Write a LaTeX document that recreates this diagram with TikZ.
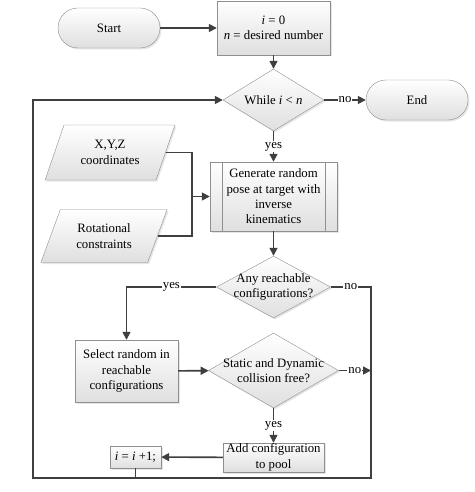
\documentclass[tikz,border=0pt]{standalone}
\usepackage{fontspec}
\setmainfont{Liberation Serif}
\usetikzlibrary{shapes.geometric, arrows.meta, shadows}
\definecolor{linegray}{HTML}{3F3F3F}
\definecolor{rimgray}{HTML}{8F8F8F}
\definecolor{shadegray}{HTML}{DFDFDF}
\newcommand{\ctr}[1]{\makebox[0pt]{#1}}

\begin{document}
\begin{tikzpicture}[x = 1pt, y = -1pt, font = \fontsize{12.8}{15.3}\selectfont,
		box/.style = {draw = rimgray, top color = white, bottom color = shadegray, align = center, inner sep = 1pt,
			drop shadow = {shadow xshift = 1.5pt, shadow yshift = -1.5pt, fill = black!20}},
		term/.style = {box, rounded corners = 20pt, minimum width = 102pt, minimum height = 40pt},
		proc/.style = {box, rectangle},
		cond/.style = {box, diamond, inner sep = 0pt},
		data/.style = {box, trapezium, trapezium left angle = 63, trapezium right angle = 117,
			trapezium stretches = true, inner sep = 0pt},
		wire/.style = {draw = linegray, line width = 1.6pt, -{Triangle[length = 8pt, width = 8pt]}},
		plain/.style = {draw = linegray, line width = 1.6pt},
		lab/.style = {fill = white, inner sep = 1pt}]
		\useasboundingbox (0, 0) rectangle (474, 492);
		%%%%%%%%%%%%%
		\node[term] (start) at (109, 28) {Start};
		\node[proc, minimum width = 113pt, minimum height = 54pt] (init) at (273.5, 28) {\textit{i} = 0\\\textit{n} = desired number};
		\node[cond, minimum width = 101pt, minimum height = 62pt] (while) at (273.5, 100) {\ctr{While \textit{i} < \textit{n}}};
		\node[term] (end) at (417, 100) {End};
		\node[data, minimum width = 130pt, minimum height = 55pt] (xyz) at (110, 152.5) {X,Y,Z\\coordinates};
		\node[data, minimum width = 127pt, minimum height = 53pt] (rot) at (104, 236) {Rotational\\constraints};
		\node[proc, minimum width = 127pt, minimum height = 69pt] (gen) at (273.5, 196.5) {Generate random\\pose at target with\\inverse\\kinematics};
		\draw[rimgray] ([xshift = 12pt]gen.north west) -- ([xshift = 12pt]gen.south west);
		\draw[rimgray] ([xshift = -12pt]gen.north east) -- ([xshift = -12pt]gen.south east);
		\node[cond, minimum width = 114pt, minimum height = 62pt] (any) at (273.5, 287) {\ctr{Any reachable}\\\ctr{configurations?}};
		\node[proc, minimum width = 103pt, minimum height = 62pt] (sel) at (126.5, 371) {Select random in\\reachable\\configurations};
		\node[cond, minimum width = 130pt, minimum height = 75pt] (stat) at (273.5, 370.5) {\ctr{Static and Dynamic}\\\ctr{collision free?}};
		\node[proc, minimum width = 101pt, minimum height = 29pt] (add) at (273.5, 457.5) {Add configuration\\to pool};
		\node[proc, minimum width = 51pt, minimum height = 22pt] (inc) at (135.5, 457) {\textit{i} = \textit{i} +1;};
		%%%%%%%%%%%%%
		\coordinate (br) at (371, 478);
		\coordinate (bl) at (33, 478);
		\coordinate (jn) at (192, 196.5);
		%%%%%%%%%%%%%
		\draw[wire] (start) -- (init); \draw[wire] (init) -- (while);
		\draw[wire] (while) -- node[lab] {no} (end);
		\draw[wire] (while) -- node[lab] {yes} (gen);
		\draw[plain] (xyz.east) -| (jn); \draw[plain] (rot.east) -| (jn);
		\draw[wire] (jn) -- (gen);
		\draw[wire] (gen) -- (any);
		\draw[wire] (any.west) -| node[lab, pos = 0.25] {yes} (sel.north);
		\draw[wire] (sel) -- (stat);
		\draw[wire] (stat.east) -- node[lab] {no} (stat.east -| br);
		\draw[wire] (stat) -- node[lab] {yes} (add);
		\draw[wire] (add) -- (inc);
		\draw[plain] (inc.south) -- (inc.south |- br);
		\draw[wire] (any.east) -| node[lab, pos = 0.25] {no} (br) -- (bl) |- (while.west);
\end{tikzpicture}
\end{document}
